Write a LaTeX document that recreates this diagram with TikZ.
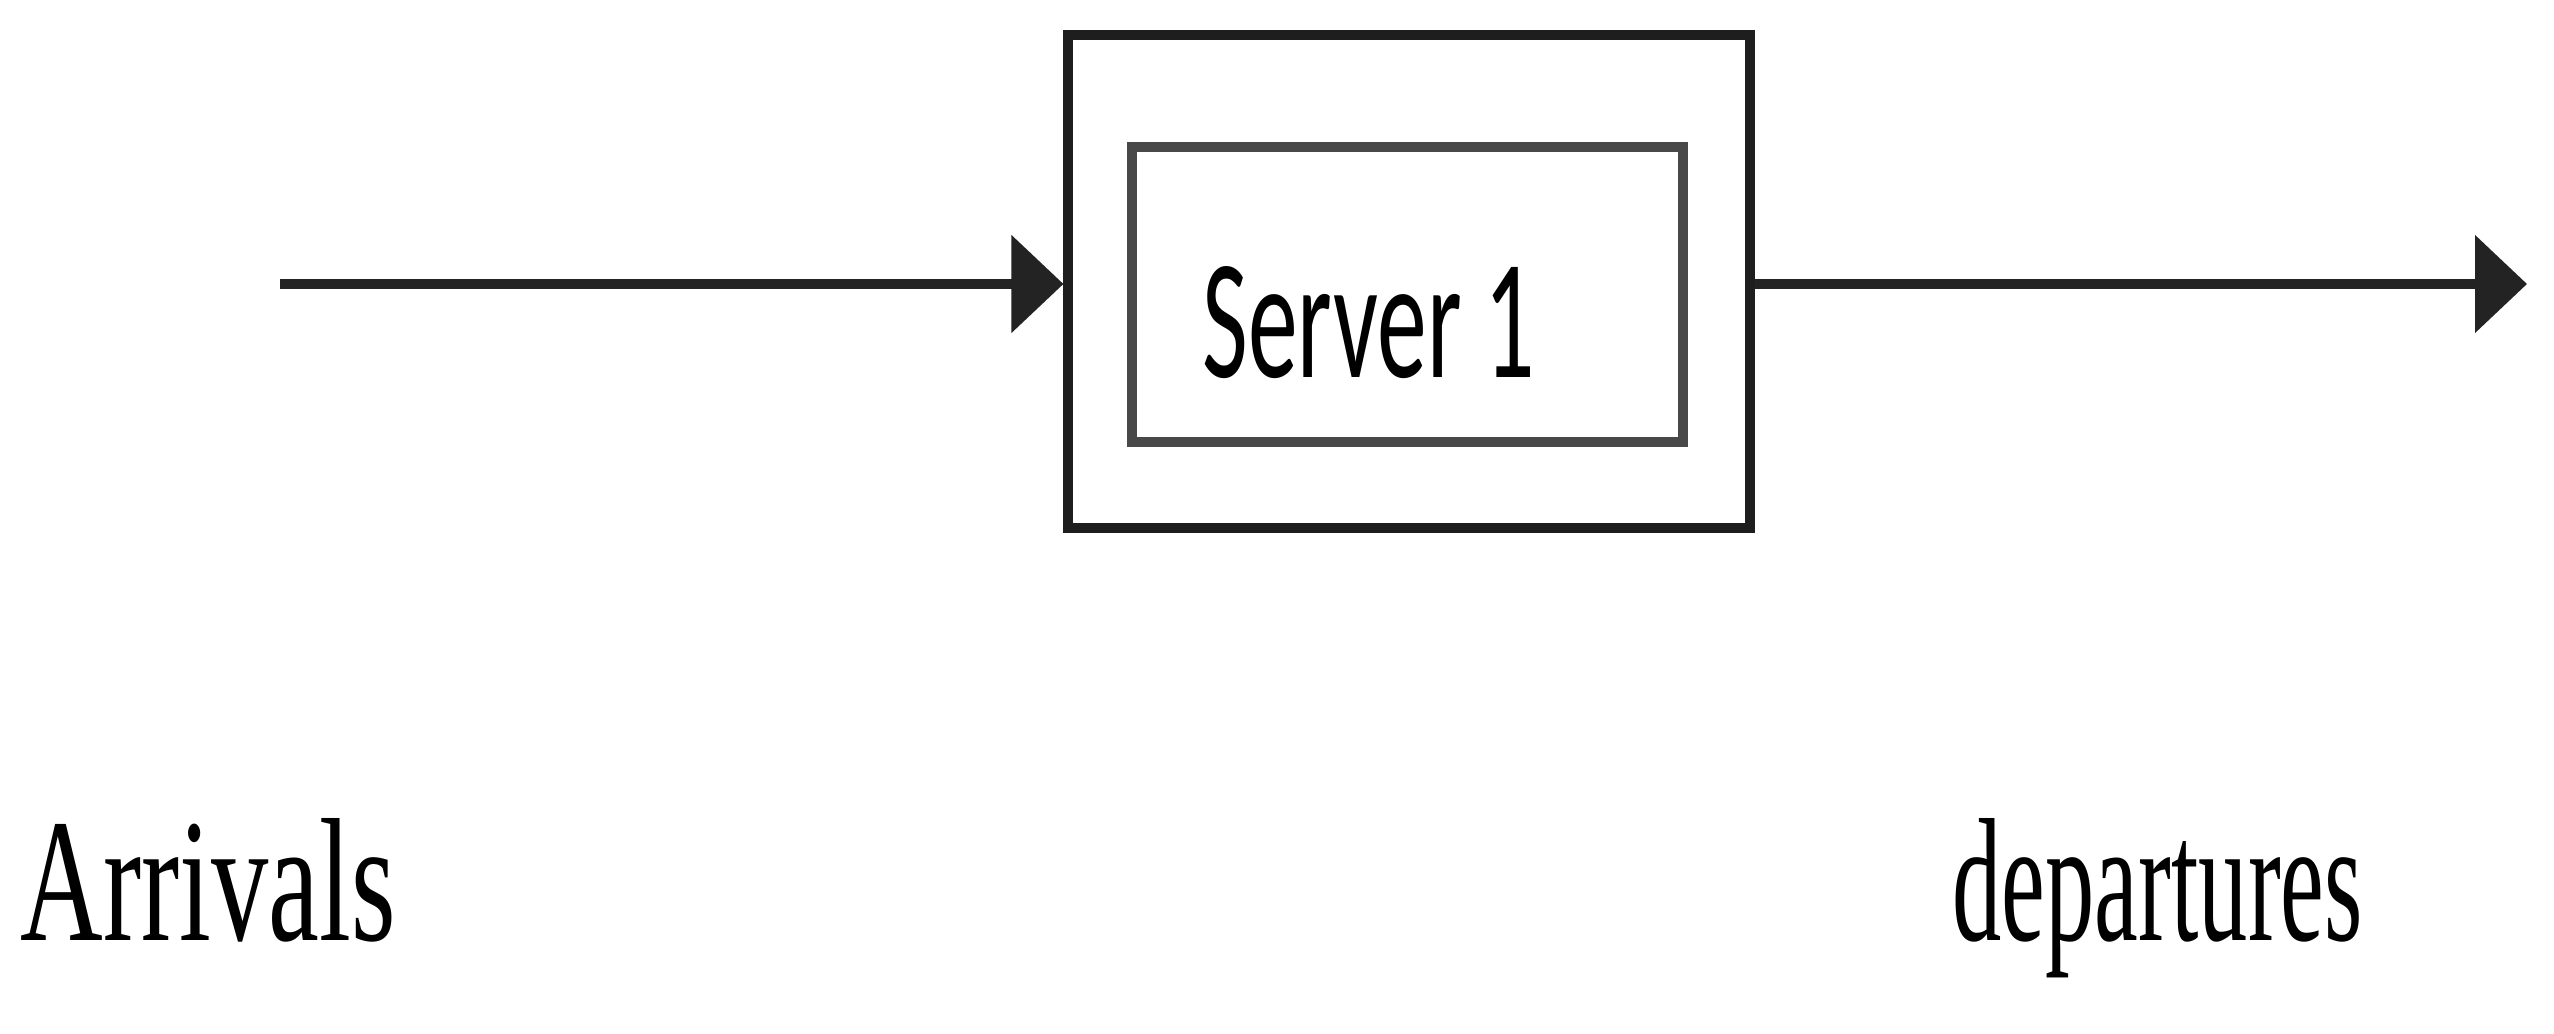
\documentclass[tikz,border=0pt]{standalone}
\usepackage{fontspec}
\setmainfont{Liberation Serif}
\newfontfamily\serverfont{Carlito}
\usetikzlibrary{arrows.meta, positioning}
\definecolor{boxblack}{RGB}{30,30,30}
\definecolor{innergray}{RGB}{72,72,72}
\definecolor{flowblack}{RGB}{35,35,35}

\begin{document}
\begin{tikzpicture}[>={Triangle[length=5.2mm, width=9.6mm]},
    queuebox/.style={draw=boxblack, line width=2.6pt, minimum width=6.82cm, minimum height=4.93cm, inner sep=0},
    serverbox/.style={draw=innergray, line width=2.6pt, minimum width=5.51cm, minimum height=2.95cm, inner sep=0},
    flow/.style={->, draw=flowblack, line width=2.6pt},
    caption/.style={inner sep=0, anchor=base west}]
    % Page
    \useasboundingbox (0,0) rectangle (25.54,-10.34);

    % Queue box (outer)
    \node[queuebox] (queue) at (14.09,-2.815) {};

    % Server box (inner)
    \node[serverbox] (server) at (14.075,-2.945) {};
    \node[caption] (srvlabel) at (12.02,-3.78) {\serverfont\resizebox{3.32cm}{1.11cm}{Server 1}};

    % In and out flows
    \coordinate (arrin) at (2.80,-2.84);
    \coordinate (depout) at (25.27,-2.84);
    \draw[flow] (arrin) -- (arrin -| queue.west);
    \draw[flow] (depout -| queue.east) -- (depout);

    % Labels
    \node[caption] (arrivals) at (0.20,-9.40) {\resizebox{3.75cm}{1.22cm}{Arrivals}};
    \node[caption] (departures) at (19.52,-9.40) {\resizebox{4.1cm}{1.22cm}{departures}};
\end{tikzpicture}
\end{document}
